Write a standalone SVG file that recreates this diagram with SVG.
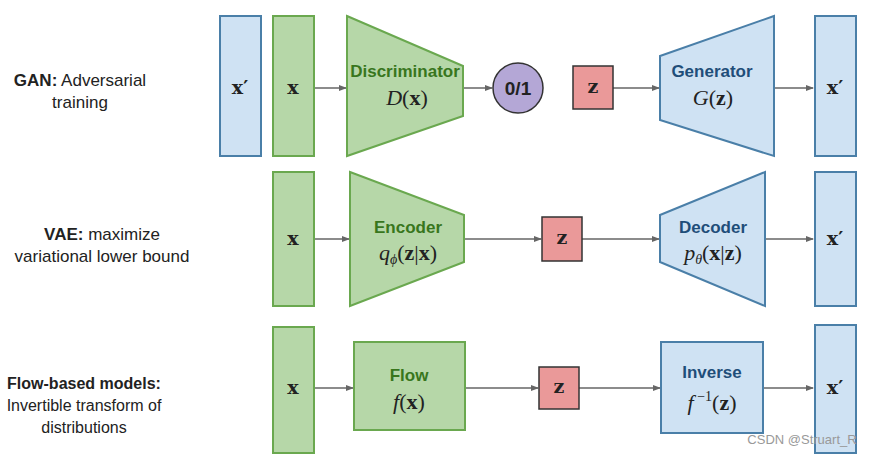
<svg xmlns="http://www.w3.org/2000/svg" width="876" height="456" viewBox="0 0 876 456">
<defs>
<marker id="ah" markerWidth="8" markerHeight="8" refX="7" refY="4" orient="auto" markerUnits="userSpaceOnUse"><path d="M0,1 L8,4 L0,7 z" fill="#666"/></marker>
<style>
.g{fill:#b6d7a8;stroke:#6aa84f;stroke-width:2}
.b{fill:#cfe2f3;stroke:#4a7fa8;stroke-width:2}
.r{fill:#ea9999;stroke:#333;stroke-width:1.5}
.p{fill:#b4a7d6;stroke:#333;stroke-width:1.5}
.m{font-family:"Liberation Serif",serif;font-size:22px;fill:#222;text-anchor:middle}
.mb{font-family:"DejaVu Serif",serif;font-weight:bold;font-size:19px;fill:#222;text-anchor:middle}
.lg{font-family:"Liberation Sans",sans-serif;font-weight:bold;font-size:17px;fill:#38761d;text-anchor:middle}
.lb{font-family:"Liberation Sans",sans-serif;font-weight:bold;font-size:17px;fill:#1f4e79;text-anchor:middle}
.t{font-family:"Liberation Sans",sans-serif;font-size:17px;fill:#222;text-anchor:middle}
.tf{font-family:"Liberation Sans",sans-serif;font-size:16px;fill:#222;text-anchor:middle}
.c line{stroke:#666;stroke-width:1.5;marker-end:url(#ah)}
</style>
</defs>
<rect width="876" height="456" fill="#fff"/>
<g id="labels">
<text class="t" x="80" y="86"><tspan font-weight="bold">GAN:</tspan> Adversarial</text>
<text class="t" x="80" y="108">training</text>
<text class="t" x="102" y="240"><tspan font-weight="bold">VAE:</tspan> maximize</text>
<text class="t" x="102" y="262">variational lower bound</text>
<text class="tf" x="84" y="389" font-weight="bold">Flow-based models:</text>
<text class="tf" x="84" y="411">Invertible transform of</text>
<text class="tf" x="84" y="433">distributions</text>
</g>
<g class="c" id="connectors">
<line x1="314" y1="88" x2="346" y2="88"/>
<line x1="463" y1="88" x2="492" y2="88"/>
<line x1="613" y1="88" x2="659" y2="88"/>
<line x1="774" y1="88" x2="813" y2="88"/>
<line x1="314" y1="239" x2="349" y2="239"/>
<line x1="464" y1="239" x2="541" y2="239"/>
<line x1="582" y1="239" x2="659" y2="239"/>
<line x1="765" y1="239" x2="813" y2="239"/>
<line x1="314" y1="388" x2="353" y2="388"/>
<line x1="465" y1="388" x2="538" y2="388"/>
<line x1="579" y1="388" x2="660" y2="388"/>
<line x1="763" y1="388" x2="813" y2="388"/>
</g>
<g id="gan-xp"><rect class="b" x="220" y="16" width="41" height="140"/><text class="mb" x="240" y="94">x′</text></g>
<g id="gan-x"><rect class="g" x="273" y="16" width="41" height="140"/><text class="mb" x="293" y="94">x</text></g>
<g id="disc"><polygon class="g" points="347,16 463,66 463,116 347,156"/><text class="lg" x="405" y="77">Discriminator</text><text class="m" x="407" y="105"><tspan font-style="italic">D</tspan>(<tspan font-weight="bold">x</tspan>)</text></g>
<g id="out01"><circle class="p" cx="518" cy="88" r="25"/><text x="518" y="95" text-anchor="middle" font-family="Liberation Sans,sans-serif" font-weight="bold" font-size="19" fill="#222">0/1</text></g>
<g id="gan-z"><rect class="r" x="573" y="66" width="40" height="43"/><text class="mb" x="593" y="93">z</text></g>
<g id="gen"><polygon class="b" points="660,56 774,16 774,156 660,120"/><text class="lb" x="712" y="77">Generator</text><text class="m" x="713" y="105"><tspan font-style="italic">G</tspan>(<tspan font-weight="bold">z</tspan>)</text></g>
<g id="gan-xo"><rect class="b" x="815" y="16" width="41" height="140"/><text class="mb" x="835" y="94">x′</text></g>

<g id="vae-x"><rect class="g" x="273" y="172" width="41" height="134"/><text class="mb" x="293" y="245">x</text></g>
<g id="enc"><polygon class="g" points="350,172 464,215 464,262 350,306"/><text class="lg" x="408" y="233">Encoder</text><text class="m" x="408" y="260"><tspan font-style="italic">q</tspan><tspan font-style="italic" font-size="14" dy="4">ϕ</tspan><tspan dy="-4">(</tspan><tspan font-weight="bold">z</tspan>|<tspan font-weight="bold">x</tspan>)</text></g>
<g id="vae-z"><rect class="r" x="542" y="217" width="40" height="44"/><text class="mb" x="562" y="244">z</text></g>
<g id="dec"><polygon class="b" points="660,215 765,172 765,306 660,262"/><text class="lb" x="713" y="233">Decoder</text><text class="m" x="713" y="260"><tspan font-style="italic">p</tspan><tspan font-style="italic" font-size="14" dy="4">θ</tspan><tspan dy="-4">(</tspan><tspan font-weight="bold">x</tspan>|<tspan font-weight="bold">z</tspan>)</text></g>
<g id="vae-xo"><rect class="b" x="815" y="172" width="41" height="134"/><text class="mb" x="835" y="245">x′</text></g>

<g id="flow-x"><rect class="g" x="273" y="327" width="41" height="126"/><text class="mb" x="293" y="394">x</text></g>
<g id="flow"><rect class="g" x="354" y="342" width="111" height="88"/><text class="lg" x="409" y="381">Flow</text><text class="m" x="409" y="409"><tspan font-style="italic">f</tspan>(<tspan font-weight="bold">x</tspan>)</text></g>
<g id="flow-z"><rect class="r" x="539" y="367" width="40" height="42"/><text class="mb" x="559" y="393">z</text></g>
<g id="inv"><rect class="b" x="661" y="342" width="102" height="91"/><text class="lb" x="712" y="378">Inverse</text><text class="m" x="712" y="410"><tspan font-style="italic">f</tspan><tspan font-size="14" dy="-9"> −1</tspan><tspan dy="9">(</tspan><tspan font-weight="bold">z</tspan>)</text></g>
<g id="flow-xo"><rect class="b" x="815" y="325" width="41" height="128"/><text class="mb" x="835" y="394">x′</text></g>
<text x="802" y="444" text-anchor="middle" font-family="Liberation Sans,sans-serif" font-size="13" fill="#999">CSDN @Struart_R</text>
</svg>
